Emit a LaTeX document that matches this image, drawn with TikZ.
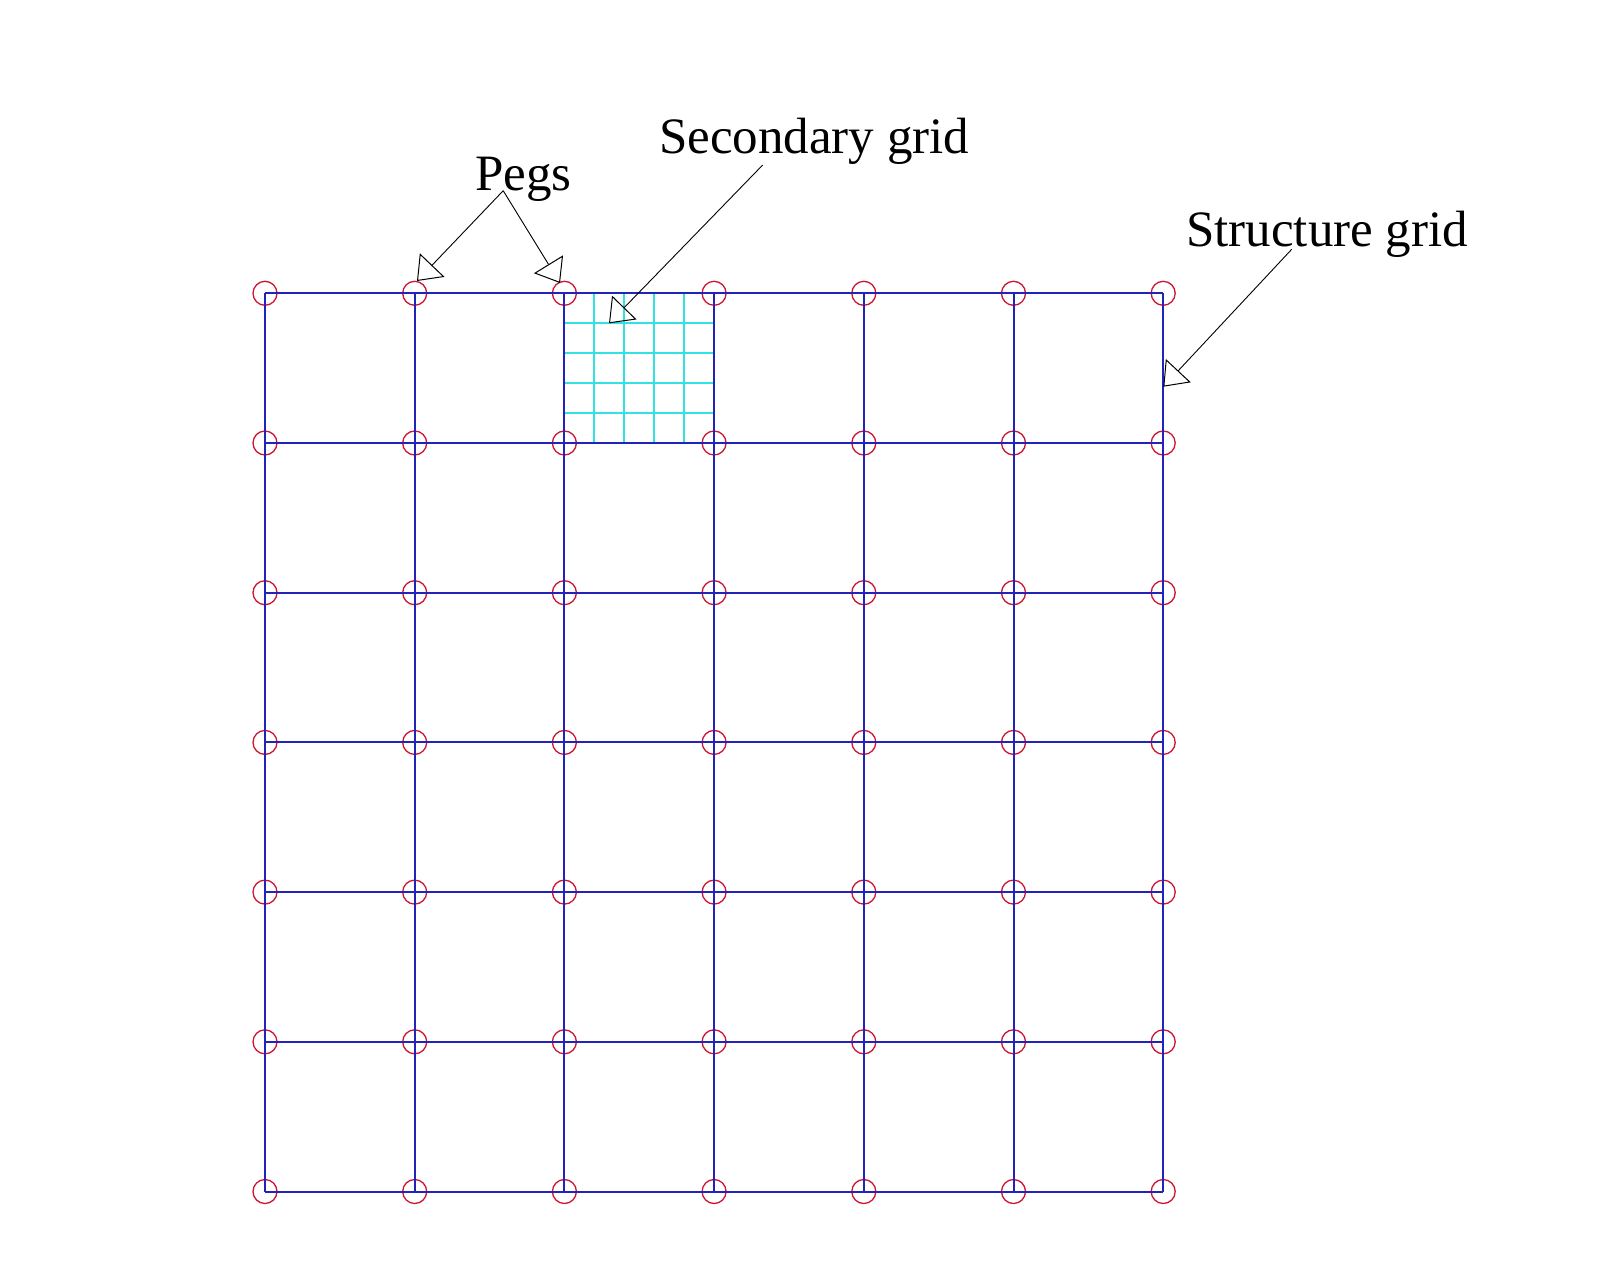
\documentclass[tikz,border=0pt]{standalone}
\usepackage{fontspec}
\setmainfont{Liberation Serif}
\usetikzlibrary{arrows.meta}
\definecolor{gridblue}{RGB}{35,35,185}
\definecolor{pegred}{RGB}{205,20,50}
\definecolor{seccyan}{RGB}{50,225,225}
\begin{document}
\begin{tikzpicture}[x=1pt,y=-1pt,
  secline/.style={draw=seccyan,line width=1.7pt},
  structline/.style={draw=gridblue,line width=2pt},
  peg/.style={circle,draw=pegred,line width=1.3pt,minimum size=24pt,inner sep=0pt,outer sep=0pt},
  lbl/.style={font=\fontsize{51}{60}\selectfont,inner sep=0pt,anchor=base west},
  callout/.style={draw=black,line width=0.9pt,-{Triangle[open,length=22pt,width=34pt,line width=1pt]}}]
\useasboundingbox (0,0) rectangle (1600,1280);
\fill[white] (0,0) rectangle (1600,1280);
% secondary grid
\foreach \k in {1,...,4} {
  \draw[secline] ({564.3+\k*29.94},293.3) -- ({564.3+\k*29.94},443);
  \draw[secline] (564.3,{293.3+\k*29.94}) -- (714,{293.3+\k*29.94});
}
% pegs
\foreach \i in {0,...,6} {
  \foreach \j in {0,...,6} {
    \node[peg] (p-\i-\j) at ({265+\i*149.7},{293.3+\j*149.7}) {};
  }
}
% structure grid
\foreach \i in {0,...,6} {
  \draw[structline] (p-\i-0.center) -- (p-\i-6.center);
  \draw[structline] (p-0-\i.center) -- (p-6-\i.center);
}
% labels
\node[lbl] (pegs) at (475,190.7) {Pegs};
\node[lbl] (sec) at (659,153.3) {Secondary grid};
\node[lbl] (struct) at (1186,246) {Structure grid};
\coordinate (pegsfrom) at (503.2,190.7);
\coordinate (secfrom) at (762.7,165);
\coordinate (structfrom) at (1291.7,249.3);
\coordinate (secto) at (609,323.3);
\coordinate (structto) at (1163.3,386.7);
\coordinate (pegto1) at (417,281);
\coordinate (pegto2) at (560,283);
\draw[callout] (pegsfrom) -- (pegto1);
\draw[callout] (pegsfrom) -- (pegto2);
\draw[callout] (secfrom) -- (secto);
\draw[callout] (structfrom) -- (structto);
\end{tikzpicture}
\end{document}
